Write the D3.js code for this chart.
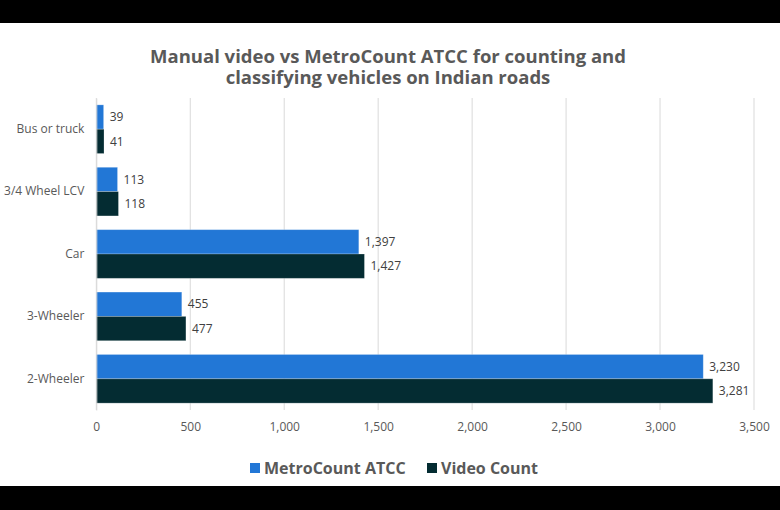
<!DOCTYPE html>
<html>
<head>
<meta charset="utf-8">
<script src="https://cdn.jsdelivr.net/npm/d3@7"></script>
<style>
  html, body { margin: 0; padding: 0; background: #000; }
  svg { display: block; }
</style>
</head>
<body>
<svg id="chart" width="780" height="510"></svg>
<script>
const categories = ["Bus or truck", "3/4 Wheel LCV", "Car", "3-Wheeler", "2-Wheeler"];
const seriesNames = ["MetroCount ATCC", "Video Count"];
const metroCount = [39, 113, 1397, 455, 3230];
const videoCount = [41, 118, 1427, 477, 3281];
const xTicks = [0, 500, 1000, 1500, 2000, 2500, 3000, 3500];
const colors = ["#2277d6", "#042c32"];

const svg = d3.select("#chart");
const margin = { top: 98, left: 96.3, right: 26, bottom: 100 };
const plotW = 754 - margin.left;
const plotH = 410 - margin.top;

// white panel between the black bands
svg.append("rect").attr("x", 0).attr("y", 23).attr("width", 780).attr("height", 463).attr("fill", "#fff");

svg.append("text")
    .attr("x", 388).attr("y", 63)
    .attr("text-anchor", "middle")
    .style("font-family", "'Open Sans', sans-serif")
    .style("font-weight", 700)
    .style("font-size", "18.5px")
    .attr("fill", "#595959")
    .text("Manual video vs MetroCount ATCC for counting and");
svg.append("text")
    .attr("x", 388).attr("y", 84)
    .attr("text-anchor", "middle")
    .style("font-family", "'Open Sans', sans-serif")
    .style("font-weight", 700)
    .style("font-size", "18.5px")
    .attr("fill", "#595959")
    .text("classifying vehicles on Indian roads");

const chart = svg.append("g").attr("transform", `translate(${margin.left},${margin.top})`);

const x = d3.scaleLinear().domain([0, 3500]).range([0, plotW]);
const y = d3.scaleBand().domain(categories).range([0, plotH]).paddingInner(0.22).paddingOuter(0.11);
const y1 = d3.scaleBand().domain(seriesNames).range([0, y.bandwidth()]);

// gridlines
chart.selectAll(".grid")
    .data(xTicks)
    .enter().append("line")
    .attr("x1", d => x(d)).attr("x2", d => x(d))
    .attr("y1", 0).attr("y2", plotH)
    .attr("stroke", "#d9d9d9").attr("stroke-width", 1);

const rows = categories.map((c, i) => [
    { cat: c, series: seriesNames[0], value: metroCount[i] },
    { cat: c, series: seriesNames[1], value: videoCount[i] }
]).flat();

chart.selectAll(".bar")
    .data(rows)
    .enter().append("rect")
    .attr("x", 0)
    .attr("y", d => y(d.cat) + y1(d.series))
    .attr("width", d => x(d.value))
    .attr("height", y1.bandwidth())
    .attr("fill", (d, i) => colors[i % 2])
    .attr("stroke", "rgba(255,255,255,0.3)")
    .attr("stroke-width", 0.8);

chart.selectAll(".label")
    .data(rows)
    .enter().append("text")
    .attr("x", d => x(d.value) + 6)
    .attr("y", d => y(d.cat) + y1(d.series) + y1.bandwidth() / 2)
    .attr("dy", "0.35em")
    .style("font-family", "'Open Sans', sans-serif")
    .style("font-size", "12px")
    .attr("fill", "#404040")
    .text(d => d3.format(",")(d.value));

// axes
const xAxis = chart.append("g")
    .attr("transform", `translate(0,${plotH})`)
    .call(d3.axisBottom(x).tickValues(xTicks).tickFormat(d3.format(",")).tickSize(0).tickPadding(12));
xAxis.select(".domain").remove();
xAxis.selectAll("text")
    .style("font-family", "'Open Sans', sans-serif")
    .style("font-size", "12px")
    .attr("fill", "#595959");

const yAxis = chart.append("g")
    .call(d3.axisLeft(y).tickSize(0).tickPadding(12));
yAxis.select(".domain").attr("stroke", "#d9d9d9");
yAxis.selectAll("text")
    .style("font-family", "'Open Sans', sans-serif")
    .style("font-size", "12px")
    .attr("fill", "#595959");

// legend
const legend = svg.append("g").attr("transform", "translate(250,468)");
const legendX = [0, 177];
seriesNames.forEach((s, i) => {
    const g = legend.append("g").attr("transform", `translate(${legendX[i]},0)`);
    g.append("rect").attr("x", 0).attr("y", -5).attr("width", 10).attr("height", 10).attr("fill", colors[i]);
    g.append("text")
        .attr("x", 14).attr("y", 0).attr("dy", "0.35em")
        .style("font-family", "'Open Sans', sans-serif")
        .style("font-weight", 700)
        .style("font-size", "16px")
        .attr("fill", "#595959")
        .text(s);
});
</script>
</body>
</html>
